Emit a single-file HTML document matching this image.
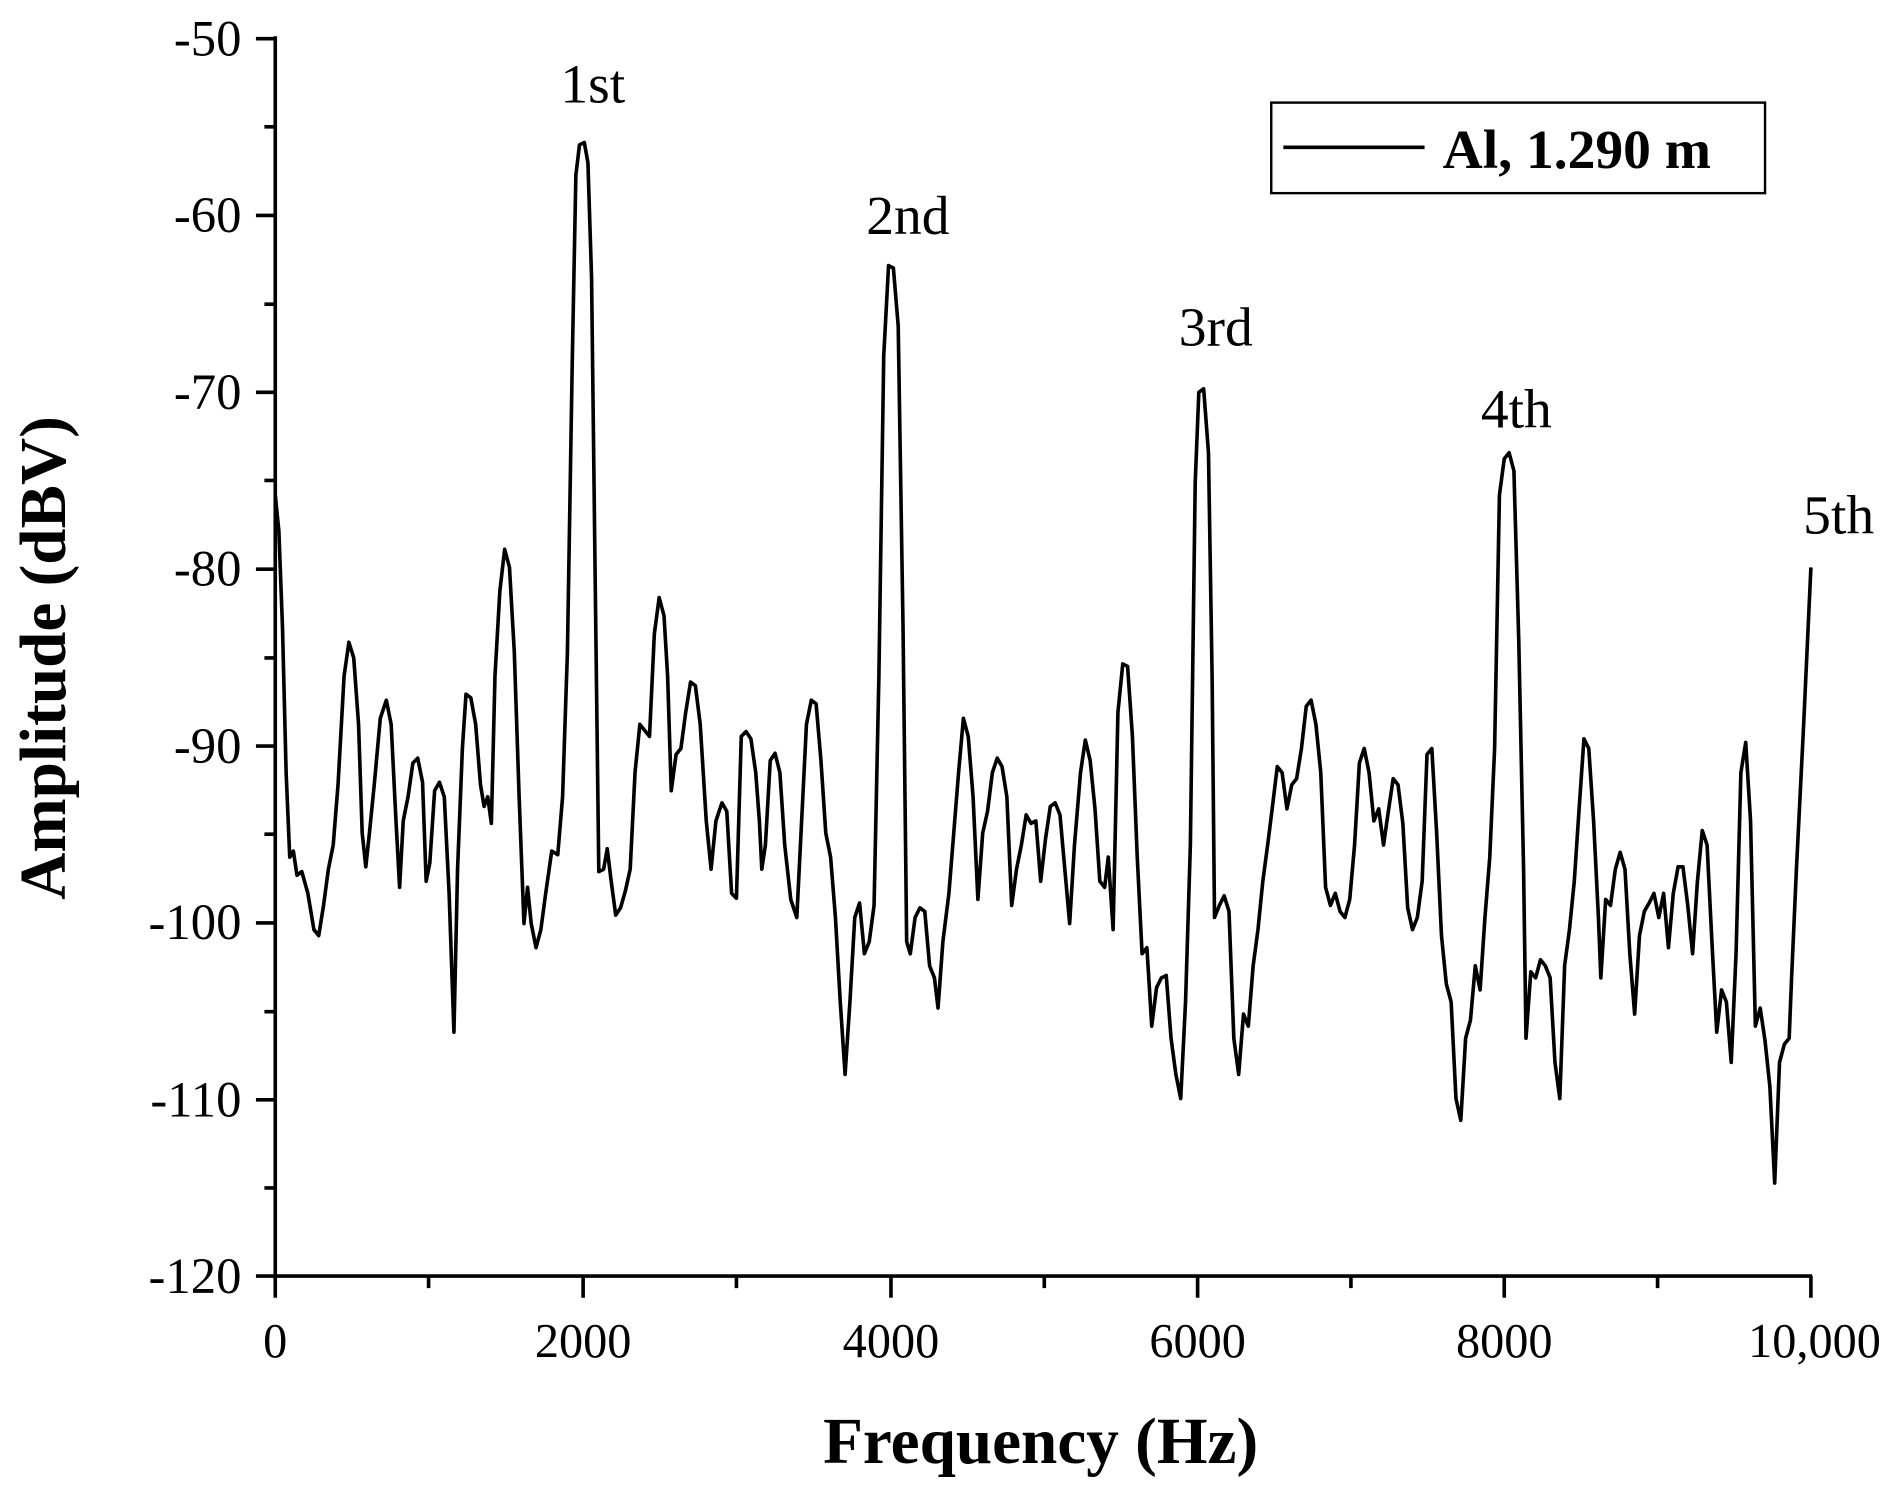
<!DOCTYPE html>
<html><head><style>html,body{margin:0;padding:0;background:#fff}svg{display:block}</style></head>
<body>
<svg width="1893" height="1503" viewBox="0 0 1568 1245" preserveAspectRatio="none" xmlns="http://www.w3.org/2000/svg" font-family="'Liberation Serif',serif">
<g stroke="#000" stroke-width="3" fill="none">
<line x1="228" y1="30" x2="228" y2="1058"/>
<line x1="226" y1="1057" x2="1501" y2="1057"/>
<path d="M228 32h-16M228 178.5h-16M228 325h-16M228 471.5h-16M228 618h-16M228 764.5h-16M228 911h-16M228 1057h-16
M228 105h-9M228 252h-9M228 398h-9M228 545h-9M228 691h-9M228 838h-9M228 984h-9
M228 1057v18M483 1057v18M738 1057v18M992 1057v18M1246 1057v18M1500 1057v18
M355 1057v10M610 1057v10M865 1057v10M1119 1057v10M1373 1057v10"/>
</g>
<g font-size="42" text-anchor="end">
<text x="200" y="46">-50</text><text x="200" y="192">-60</text><text x="200" y="339">-70</text><text x="200" y="485">-80</text><text x="200" y="632">-90</text><text x="200" y="778">-100</text><text x="200" y="925">-110</text><text x="200" y="1071">-120</text>
</g>
<g font-size="40" text-anchor="middle">
<text x="228" y="1124">0</text><text x="483" y="1124">2000</text><text x="738" y="1124">4000</text><text x="992" y="1124">6000</text><text x="1246" y="1124">8000</text><text x="1503" y="1124">10,000</text>
</g>
<text x="862" y="1212" font-size="54" font-weight="bold" text-anchor="middle">Frequency (Hz)</text>
<text transform="translate(54,545) rotate(-90)" font-size="54" font-weight="bold" text-anchor="middle">Amplitude (dBV)</text>
<g font-size="46" text-anchor="middle">
<text x="491" y="85">1st</text><text x="752" y="194">2nd</text><text x="1007" y="286">3rd</text><text x="1256" y="354">4th</text><text x="1523" y="442">5th</text>
</g>
<rect x="1053" y="85" width="409" height="75" fill="none" stroke="#000" stroke-width="2"/>
<line x1="1063" y1="122" x2="1180" y2="122" stroke="#000" stroke-width="3"/>
<text x="1195" y="139" font-size="46" font-weight="bold">Al, 1.290 m</text>
<polyline fill="none" stroke="#000" stroke-width="3" stroke-linejoin="round" points="228,410 231,440 234,520 237,640 240,710 243,705 246,725 250,722 255,740 260,770 264,775 268,750 272,720 276,700 280,650 285,560 289,532 293,545 297,600 300,690 303,718 306,690 310,650 315,595 320,580 324,600 328,680 331,735 334,680 338,660 342,632 346,628 350,648 353,730 356,715 360,655 364,648 368,660 372,740 376,855 379,720 383,620 386,575 390,578 394,600 398,650 401,668 404,660 407,682 410,560 414,490 418,455 422,470 426,540 430,660 434,765 437,735 440,765 444,785 448,770 452,740 457,705 462,708 466,660 470,540 474,300 477,145 480,120 484,118 487,135 490,230 493,480 496,722 500,720 503,703 506,728 510,758 514,752 518,738 522,720 526,640 530,600 534,605 538,610 542,525 546,495 550,510 553,560 556,655 560,625 564,620 568,590 572,565 576,568 580,600 585,680 589,720 593,680 598,665 602,672 606,740 610,744 614,610 618,606 622,612 626,640 629,680 631,720 634,700 638,630 642,624 646,640 650,700 655,745 660,760 664,680 668,600 672,580 676,583 680,630 684,690 688,710 692,760 696,830 700,890 704,830 708,760 712,748 716,790 720,780 724,750 728,560 732,295 736,220 740,222 744,270 748,520 751,780 754,790 758,760 762,752 766,755 770,800 774,810 777,835 781,780 786,740 790,690 794,640 798,595 802,610 806,660 810,745 814,690 818,672 822,640 826,628 830,635 834,660 838,750 842,720 846,700 850,675 854,682 858,680 862,730 866,695 870,668 874,665 878,675 882,720 886,765 890,700 895,640 899,613 903,630 907,670 911,730 915,735 918,710 922,770 926,590 930,550 934,552 938,610 942,710 946,790 950,785 954,850 958,818 962,810 966,808 970,860 974,890 978,910 982,830 986,700 990,400 993,325 997,322 1001,375 1004,560 1006,760 1010,750 1014,742 1018,755 1022,860 1026,890 1030,840 1034,850 1038,800 1042,770 1046,730 1050,700 1054,668 1058,635 1062,640 1066,670 1070,650 1074,645 1078,620 1082,585 1086,580 1090,600 1094,640 1098,735 1102,750 1106,740 1110,755 1114,760 1118,745 1122,700 1126,632 1130,620 1134,640 1138,680 1142,670 1146,700 1150,672 1154,645 1158,650 1162,682 1166,752 1170,770 1174,760 1178,730 1182,625 1186,620 1190,690 1194,775 1198,815 1202,830 1206,910 1210,928 1214,860 1218,845 1222,800 1226,820 1230,760 1234,710 1238,620 1242,410 1246,380 1250,375 1254,390 1258,530 1262,720 1264,860 1268,805 1272,810 1276,795 1280,800 1284,810 1288,880 1292,910 1296,800 1300,770 1304,730 1308,670 1312,612 1316,620 1320,680 1324,760 1326,810 1330,745 1334,750 1338,720 1342,706 1346,720 1350,790 1354,840 1358,775 1362,755 1366,748 1370,740 1374,760 1378,740 1382,785 1386,740 1390,718 1394,718 1398,750 1402,790 1406,730 1410,688 1414,700 1418,780 1422,855 1426,820 1430,830 1434,880 1438,790 1442,640 1446,615 1450,680 1454,850 1458,835 1462,862 1466,900 1470,980 1474,880 1478,865 1482,860 1484,810 1488,720 1494,600 1500,470"/>
</svg>
</body></html>
